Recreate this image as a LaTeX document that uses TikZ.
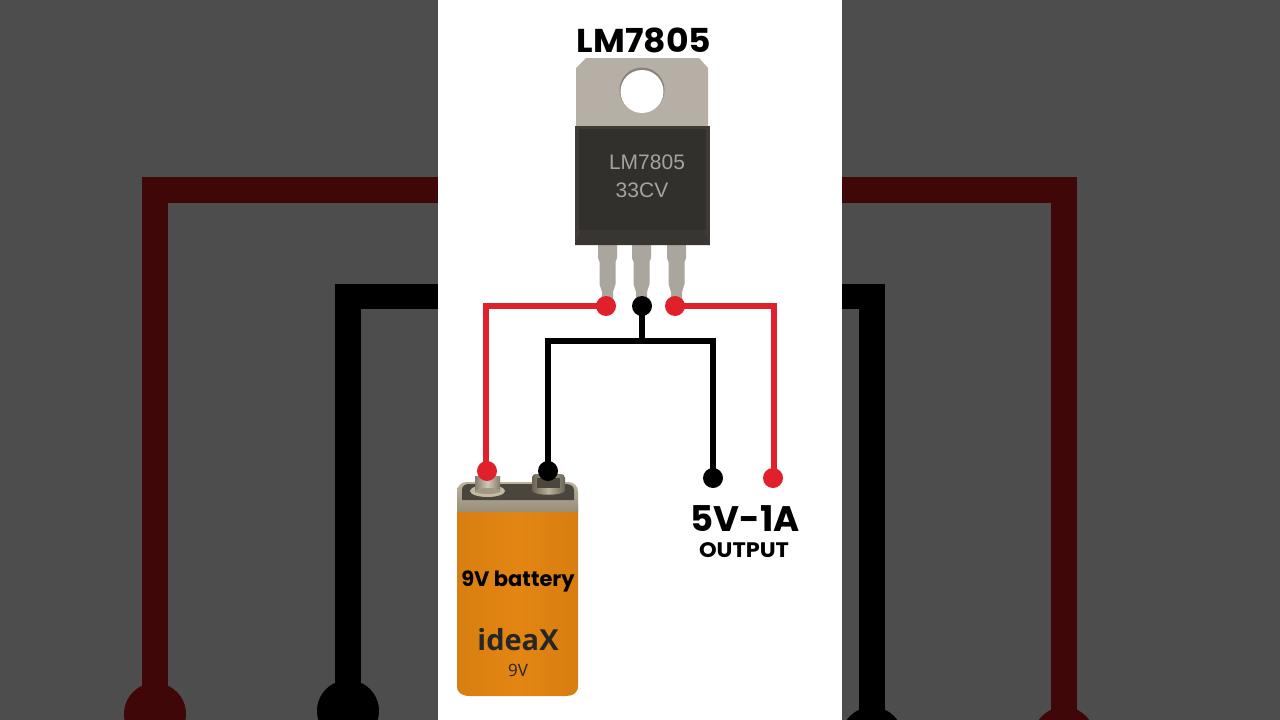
\documentclass[tikz,border=0pt]{standalone}
\usepackage{fontspec}
\setmainfont{Poppins}[BoldFont={* Bold}]
\newfontfamily\chipfont{Liberation Sans}
\newfontfamily\brandfont{Open Sans}[BoldFont={* Bold}]
\definecolor{dimback}{HTML}{4D4D4D}
\definecolor{dimred}{HTML}{3F0707}
\definecolor{dimcell}{HTML}{3C3C34}
\definecolor{wirered}{HTML}{E0202A}
\definecolor{tabgray}{HTML}{B5AFA5}
\definecolor{leadgray}{HTML}{ABA69D}
\definecolor{chipdark}{HTML}{32302C}
\definecolor{chipedge}{HTML}{3F3C37}
\definecolor{chiptext}{HTML}{A8A29A}
\definecolor{cellorange}{HTML}{E38512}
\definecolor{cellrim}{HTML}{BDB299}
\definecolor{celltop}{HTML}{4A463E}
\tikzset{
    redwire/.style={draw=wirered,line width=6.5pt},
    blackwire/.style={draw=black,line width=6.5pt},
    redpad/.style={circle,fill=wirered,inner sep=0pt,minimum size=20pt},
    blackpad/.style={circle,fill=black,inner sep=0pt,minimum size=20pt},
    dimredwire/.style={draw=dimred,line width=25.5pt},
    dimblackwire/.style={draw=black,line width=25.5pt},
    dimredpad/.style={circle,fill=dimred,inner sep=0pt,minimum size=62pt},
    dimblackpad/.style={circle,fill=black,inner sep=0pt,minimum size=62pt},
    chipleg/.style={draw=none,fill=leadgray},
    heading/.style={inner sep=0pt}
}
\begin{document}
\begin{tikzpicture}[x=1pt,y=-1pt]
        \useasboundingbox (0,0) rectangle (1280,720);
        % dimmed copy behind the panel
        \fill [dimback] (0,0) rectangle (1280,720);
        \begin{scope}
            \clip (0,0) rectangle (1280,720);
            \fill [dimcell] (155,742) ellipse (58 and 25);
            \fill [dimcell] (348,740) ellipse (50 and 23);
            \node [dimredpad] (dimredl) at (155,714) {};
            \node [dimblackpad] (dimblackl) at (348,711) {};
            \node [dimblackpad] (dimblackr) at (872,738) {};
            \node [dimredpad] (dimredr) at (1064,738) {};
            \coordinate (dimcornerl) at (155,190);
            \coordinate (dimcornerr) at (1064,190);
            \coordinate (dimbendl) at (348,296.5);
            \coordinate (dimbendr) at (872,296.5);
            \draw [dimredwire,line join=miter] (dimredl.center) -- (dimcornerl) -- (dimcornerr) -- (dimredr.center);
            \draw [dimblackwire,line join=miter] (dimblackl.center) -- (dimbendl) -- (dimbendr) -- (dimblackr.center);
        \end{scope}
        % white panel
        \fill [white] (438,0) rectangle (842,720);
        \node [heading,font=\bfseries\fontsize{33}{33}\selectfont,xscale=1.05] (title) at (644,40) {LM7805};
        % regulator
        \draw [draw=none, fill=tabgray] (576,126) -- (576,68) -- (586,58) -- (699,58) -- (708,68) -- (708,126) -- cycle;
        \draw [draw=none, fill=tabgray!75!black] (642,90) circle (22.5);
        \draw [draw=none, fill=white] (642,91.5) circle (21.5);
        \foreach \legx in {607.5,641.5,676.5} {
            \draw [chipleg] (\legx-9.5,240) -- (\legx+9.5,240) -- (\legx+9.5,258) -- (\legx+8,262) -- (\legx+8,284) -- (\legx+5.5,292) -- (\legx+5.5,306) -- (\legx-5.5,306) -- (\legx-5.5,292) -- (\legx-8,284) -- (\legx-8,262) -- (\legx-9.5,258) -- cycle;
        }
        \draw [draw=none, fill=chipedge] (575,126) rectangle (710,245);
        \draw [draw=none, fill=chipdark] (579,129) rectangle (706,230);
        \draw [draw=none, fill=chipedge!90!black] (575,245) -- (581,230) -- (704,230) -- (710,245) -- cycle;
        \node [font=\chipfont\fontsize{21}{21}\selectfont,text=chiptext,inner sep=0pt] (chipname) at (647,162) {LM7805};
        \node [font=\chipfont\fontsize{21}{21}\selectfont,text=chiptext,inner sep=0pt] (chipcode) at (642,190) {33CV};
        % battery
        \draw [draw=none, left color=cellorange!95!black, right color=cellorange!95!black, middle color=cellorange] (457,505) -- (578,505) -- (578,686) .. controls (578,693) and (573,696) .. (566,696) -- (470,696) .. controls (462,696) and (457,693) .. (457,686) -- cycle;
        \draw [draw=none, top color=cellrim, bottom color=cellrim!80!black] (457,512) -- (457,492) .. controls (457,486) and (461,482) .. (467,482) -- (568,482) .. controls (574,482) and (578,486) .. (578,492) -- (578,512) -- cycle;
        \draw [draw=none, fill=celltop] (462,500) -- (462,490) .. controls (462,486) and (465,484) .. (469,484) -- (566,484) .. controls (570,484) and (574,486) .. (574,490) -- (574,500) -- cycle;
        \draw [draw=none, fill=cellrim!90!white] (487.5,491) ellipse (17.5 and 6);
        \draw [draw=none, left color=cellrim!70!black, right color=cellrim!70!black, middle color=cellrim!70!white] (475,476) rectangle (500,491);
        \draw [draw=none, fill=cellrim!85!black] (487.5,491) ellipse (12.5 and 3);
        \draw [draw=none, left color=cellrim!55!black, right color=cellrim!55!black, middle color=cellrim] (532,477) .. controls (532,474) and (535,474) .. (538,474) -- (559,474) .. controls (563,474) and (565,475) .. (565,478) -- (565,491) .. controls (562,496) and (535,496) .. (532,491) -- cycle;
        \draw [draw=none, fill=cellrim!40!black] (537,478) rectangle (560,488);
        \node [heading,font=\bfseries\fontsize{21}{21}\selectfont] (celllabel) at (518,581) {9V battery};
        \node [font=\brandfont\bfseries\fontsize{29}{29}\selectfont,text=black!85,inner sep=0pt] (brand) at (518,640) {ideaX};
        \node [font=\brandfont\fontsize{17}{17}\selectfont,text=black!85,inner sep=0pt] (cellvolt) at (518,670) {9V};
        % pads
        \node [redpad] (inpin) at (606,306) {};
        \node [blackpad] (gndpin) at (642,306) {};
        \node [redpad] (outpin) at (675,306) {};
        \node [redpad] (cellplus) at (487,471) {};
        \node [blackpad] (cellminus) at (548,471) {};
        \node [blackpad] (outminus) at (713,478) {};
        \node [redpad] (outplus) at (773,478) {};
        \coordinate (cornerin) at (486,306);
        \coordinate (cornerout) at (774,306);
        \coordinate (railmid) at (642,341);
        \coordinate (raill) at (548,341);
        \coordinate (railr) at (713,341);
        % wires
        \draw [redwire,line join=miter] (inpin.center) -- (cornerin) -- (cornerin |- cellplus);
        \draw [redwire,line join=miter] (outpin.center) -- (cornerout) -- (cornerout |- outplus);
        \draw [blackwire] (gndpin.center) -- (railmid);
        \draw [blackwire,line join=miter] (cellminus.center) -- (raill) -- (railr) -- (outminus.center);
        % output text
        \node [heading,font=\bfseries\fontsize{35.5}{35.5}\selectfont] (outvolt) at (745,519) {5V-1A};
        \node [heading,font=\bfseries\fontsize{21}{21}\selectfont,xscale=1.07] (outword) at (744,550) {OUTPUT};
\end{tikzpicture}
\end{document}
